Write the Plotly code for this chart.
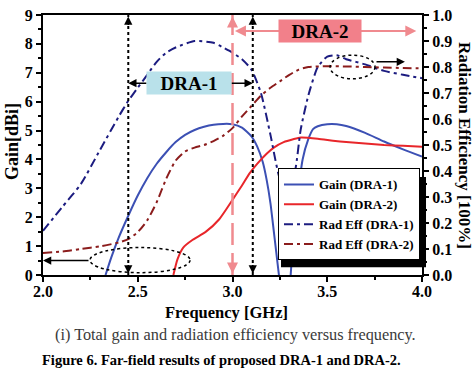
import plotly.graph_objects as go

# ---------------- data ----------------
freq_gain1 = [2.33, 2.36, 2.40, 2.45, 2.50, 2.55, 2.60, 2.65, 2.70, 2.75, 2.80, 2.85, 2.90, 2.95,
              3.00, 3.05, 3.10, 3.13, 3.16, 3.18, 3.20, 3.22, 3.245, 3.275,
              3.307, 3.32, 3.34, 3.37, 3.40, 3.425, 3.45, 3.50, 3.55, 3.60, 3.70, 3.80, 3.90, 4.00]
gain_dra1 = [0.0, 0.6, 1.3, 2.05, 2.75, 3.35, 3.85, 4.25, 4.6, 4.85, 5.02, 5.13, 5.2, 5.23,
             5.22, 5.1, 4.8, 4.45, 3.9, 3.3, 2.5, 1.4, 0.0, None,
             0.0, 1.2, 2.5, 4.0, 4.7, 5.05, 5.15, 5.22, 5.22, 5.16, 4.92, 4.62, 4.35, 4.1]

freq_gain2 = [2.688, 2.71, 2.74, 2.79, 2.86, 2.93, 3.00, 3.05, 3.09, 3.13, 3.18, 3.22, 3.27,
              3.32, 3.36, 3.45, 3.53, 3.60, 3.70, 3.80, 3.90, 4.00]
gain_dra2 = [0.0, 0.55, 0.95, 1.22, 1.5, 1.93, 2.6, 3.1, 3.52, 3.85, 4.2, 4.42, 4.6,
             4.7, 4.76, 4.72, 4.65, 4.6, 4.55, 4.5, 4.47, 4.44]

freq_eff1 = [2.00, 2.10, 2.20, 2.30, 2.40, 2.45, 2.50, 2.55, 2.60, 2.65, 2.70, 2.80, 2.90, 2.95,
             3.00, 3.05, 3.10, 3.15, 3.20, 3.25, 3.29, 3.33, 3.36, 3.40, 3.45, 3.50, 3.55,
             3.60, 3.70, 3.80, 3.90, 4.00]
eff_dra1 = [0.17, 0.26, 0.35, 0.48, 0.61, 0.67, 0.72, 0.77, 0.82, 0.855, 0.875, 0.90, 0.893, 0.875,
            0.855, 0.83, 0.79, 0.70, 0.54, 0.37, 0.325, 0.40, 0.56, 0.69, 0.80, 0.84, 0.845,
            0.83, 0.81, 0.785, 0.77, 0.757]

freq_eff2 = [2.00, 2.10, 2.20, 2.30, 2.40, 2.45, 2.50, 2.55, 2.60, 2.65, 2.70, 2.75, 2.80, 2.85,
             2.90, 2.95, 3.00, 3.05, 3.10, 3.15, 3.20, 3.25, 3.30, 3.35, 3.40, 3.50, 3.60,
             3.70, 3.80, 3.90, 4.00]
eff_dra2 = [0.085, 0.09, 0.10, 0.11, 0.125, 0.138, 0.165, 0.21, 0.28, 0.37, 0.44, 0.475, 0.49, 0.50,
            0.515, 0.535, 0.565, 0.61, 0.65, 0.69, 0.72, 0.745, 0.77, 0.79, 0.80, 0.803, 0.802,
            0.80, 0.798, 0.796, 0.795]

x_ticks = [2.0, 2.5, 3.0, 3.5, 4.0]
x_tick_labels = ["2.0", "2.5", "3.0", "3.5", "4.0"]
gain_ticks = [0, 1, 2, 3, 4, 5, 6, 7, 8, 9]
eff_ticks = [0.0, 0.1, 0.2, 0.3, 0.4, 0.5, 0.6, 0.7, 0.8, 0.9, 1.0]
series_names = ["Gain (DRA-1)", "Gain (DRA-2)", "Rad Eff (DRA-1)", "Rad Eff (DRA-2)"]

# ---------------- figure ----------------
FONT = "Liberation Serif"
PINK = "#f08a8f"

fig = go.Figure()
fig.add_trace(go.Scatter(x=freq_gain1, y=gain_dra1, name=series_names[0], mode="lines",
                         line=dict(color="#3c50b4", width=2, shape="spline", smoothing=0.6),
                         connectgaps=False))
fig.add_trace(go.Scatter(x=freq_gain2, y=gain_dra2, name=series_names[1], mode="lines",
                         line=dict(color="#e8262a", width=2, shape="spline", smoothing=0.6)))
fig.add_trace(go.Scatter(x=freq_eff1, y=eff_dra1, name=series_names[2], mode="lines", yaxis="y2",
                         line=dict(color="#1c1c80", width=2, dash="9px,4px,3px,4px",
                                   shape="spline", smoothing=0.6)))
fig.add_trace(go.Scatter(x=freq_eff2, y=eff_dra2, name=series_names[3], mode="lines", yaxis="y2",
                         line=dict(color="#8b1c1c", width=2, dash="9px,4px,3px,4px",
                                   shape="spline", smoothing=0.6)))

tickfont = dict(family=FONT, size=16, color="black")
fig.update_layout(
    width=474, height=371, autosize=False,
    margin=dict(l=43, r=52, t=7, b=96),
    plot_bgcolor="white", paper_bgcolor="white",
    font=dict(family=FONT, color="black"),
    xaxis=dict(range=[2.0, 4.0], tickvals=x_ticks, ticktext=[f"<b>{t}</b>" for t in x_tick_labels],
               showline=True, linecolor="black", linewidth=2, mirror=True,
               ticks="outside", ticklen=5, tickwidth=2, tickcolor="black", ticklabelstandoff=-4,
               minor=dict(dtick=0.25, ticks="outside", ticklen=3, tickwidth=1.5, tickcolor="black"),
               showgrid=False, zeroline=False, tickfont=tickfont),
    yaxis=dict(range=[0, 9], tickvals=gain_ticks, ticktext=[f"<b>{t}</b>" for t in gain_ticks],
               showline=True, linecolor="black", linewidth=2,
               ticks="outside", ticklen=5, tickwidth=2, tickcolor="black",
               minor=dict(dtick=0.5, ticks="outside", ticklen=3, tickwidth=1.5, tickcolor="black"),
               showgrid=False, zeroline=False, tickfont=tickfont),
    yaxis2=dict(range=[0, 1.0], tickvals=eff_ticks, ticktext=[f"<b>{t:.1f}</b>" for t in eff_ticks],
                overlaying="y", side="right",
                showline=True, linecolor="black", linewidth=2,
                ticks="outside", ticklen=5, tickwidth=2, tickcolor="black",
                minor=dict(dtick=0.05, ticks="outside", ticklen=3, tickwidth=1.5, tickcolor="black"),
                showgrid=False, zeroline=False, tickfont=tickfont),
    legend=dict(x=0.9947, y=0.056, xanchor="right", yanchor="bottom",
                bgcolor="white", bordercolor="black", borderwidth=1,
                font=dict(family=FONT, size=13, color="black", weight="bold"),
                itemwidth=30, tracegroupgap=0),
    showlegend=True,
)

# vertical marker lines
fig.add_shape(type="line", xref="x", yref="y", x0=2.45, x1=2.45, y0=0, y1=9,
              line=dict(color="black", width=2, dash="dot"))
fig.add_shape(type="line", xref="x", yref="y", x0=3.107, x1=3.107, y0=0, y1=9,
              line=dict(color="black", width=2, dash="dot"))
fig.add_shape(type="line", xref="x", yref="y", x0=3.0, x1=3.0, y0=0, y1=9,
              line=dict(color=PINK, width=2.5, dash="22px,8px"))

def arrow(x, y, ax, ay, color="black", width=1.5, side="end"):
    fig.add_annotation(x=x, y=y, ax=ax, ay=ay, xref="x", yref="y", axref="x", ayref="y",
                       text="", showarrow=True, arrowhead=2, arrowsize=1.1, arrowwidth=width,
                       arrowcolor=color, arrowside=side, standoff=0, startstandoff=0)

def label(x, y, text, size, color="black", angle=0, **kw):
    fig.add_annotation(x=x, y=y, xref="paper", yref="paper", text=text, textangle=angle,
                       showarrow=False, xanchor="center", yanchor="middle",
                       font=dict(family=FONT, size=size, color=color), **kw)

# arrowheads on vertical lines
arrow(2.45, 8.95, 2.45, 8.6)
arrow(2.45, 0.05, 2.45, 0.4)
arrow(3.107, 8.95, 3.107, 8.6)
arrow(3.107, 0.05, 3.107, 0.4)
arrow(3.0, 8.95, 3.0, 8.6, color=PINK, width=2)
arrow(3.0, 0.05, 3.0, 0.4, color=PINK, width=2)

# DRA-2 span arrow and label
arrow(3.97, 8.45, 3.005, 8.45, color=PINK, width=2, side="end+start")
fig.add_annotation(x=3.46, y=8.45, xref="x", yref="y", text="<b>DRA-2</b>", showarrow=False,
                   xanchor="center", yanchor="middle",
                   bgcolor="#f2808a", width=80, height=20,
                   font=dict(family=FONT, size=19, color="black"))

# DRA-1 label and arrows
arrow(2.45, 6.64, 2.554, 6.64)
arrow(3.107, 6.64, 2.987, 6.64)
fig.add_annotation(x=2.77, y=6.64, xref="x", yref="y", text="<b>DRA-1</b>", showarrow=False,
                   xanchor="center", yanchor="middle",
                   bgcolor="#b9e1ea", width=82, height=20,
                   font=dict(family=FONT, size=19, color="black"))

# ellipses + pointer arrows
fig.add_shape(type="circle", xref="x", yref="y", x0=2.248, x1=2.776, y0=0.08, y1=0.95,
              line=dict(color="black", width=1.5, dash="dot"))
arrow(2.0, 0.5, 2.248, 0.5)
fig.add_shape(type="circle", xref="x", yref="y", x0=3.515, x1=3.752, y0=6.79, y1=7.61,
              line=dict(color="black", width=1.5, dash="dot"))
arrow(3.91, 7.38, 3.752, 7.38)

# legend shadow (offset black box behind legend)
fig.add_shape(type="rect", xref="paper", yref="paper", x0=0.628, x1=1.0106, y0=0.03, y1=0.377,
              fillcolor="black", line=dict(width=0), layer="above")

# axis titles
label(-0.082, 0.515, "<b>Gain[dBi]</b>", 18, angle=-90)
label(1.1135, 0.5, "<b>Radiation Efficiency [100%]</b>", 17, angle=90)
label(0.483, -0.145, "<b>Frequency [GHz]</b>", 16.5)

# captions
label(0.509, -0.2276, "(i) Total gain and radiation efficiency versus frequency.", 16.3, color="#3a3a3a")
label(0.47, -0.328, "<b>Figure 6. Far-field results of proposed DRA-1 and DRA-2.</b>", 14.5)

fig.write_html("out.html", config={"displayModeBar": False},
               post_script="document.body.style.margin='0';")
